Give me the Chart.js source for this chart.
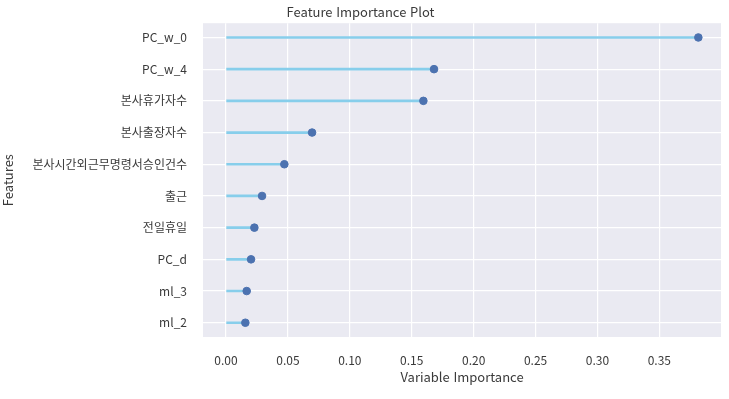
<!DOCTYPE html>
<html lang="ko">
<head>
    <meta charset="UTF-8">
    <title>Feature Importance Plot</title>
    <script src="https://cdn.jsdelivr.net/npm/chart.js@4.4.0/dist/chart.umd.min.js"></script>
    <style>
        body { margin: 0; background: #fff; }
        #wrap { width: 729px; height: 399px; }
    </style>
</head>
<body>
    <div id="wrap">
        <canvas id="fi"></canvas>
    </div>
    <script>
        // features, bottom to top (matplotlib order)
        const features = ['ml_2', 'ml_3', 'PC_d', '전일휴일', '출근', '본사시간외근무명령서승인건수', '본사출장자수', '본사휴가자수', 'PC_w_4', 'PC_w_0'];
        const importance = [0.0156, 0.0167, 0.0202, 0.0229, 0.0291, 0.0471, 0.0695, 0.1594, 0.168, 0.3815];
        const xTicks = [0, 0.05, 0.10, 0.15, 0.20, 0.25, 0.30, 0.35];

        const pts = features.map((f, i) => ({ x: importance[i], y: i }));
        const font = "'Noto Sans CJK KR', 'Noto Sans', sans-serif";
        const txt = '#3a3a3a';

        // background of plot area (seaborn darkgrid)
        const bgPlugin = {
            id: 'bg',
            beforeDraw(chart) {
                const a = chart.chartArea, c = chart.ctx;
                c.save();
                c.fillStyle = '#EAEAF2';
                c.fillRect(a.left, a.top, a.right - a.left, a.bottom - a.top);
                c.restore();
            }
        };

        new Chart(document.getElementById('fi'), {
            type: 'bar',
            data: {
                datasets: [{
                    type: 'bar',
                    data: pts,
                    backgroundColor: '#87CEEB',
                    barThickness: 2,
                    order: 2
                }, {
                    type: 'scatter',
                    data: pts,
                    backgroundColor: '#4C72B0',
                    borderColor: '#4C72B0',
                    pointRadius: 3.8,
                    order: 1
                }]
            },
            options: {
                indexAxis: 'y',
                responsive: true,
                maintainAspectRatio: false,
                animation: false,
                layout: { padding: { left: 0, right: 8, top: 0, bottom: 14 } },
                plugins: {
                    legend: { display: false },
                    tooltip: { enabled: false },
                    title: {
                        display: true,
                        text: 'Feature Importance Plot',
                        color: txt,
                        font: { family: font, size: 13, weight: 'normal' },
                        padding: { top: 3, bottom: 3 }
                    }
                },
                scales: {
                    x: {
                        type: 'linear',
                        min: -0.0186,
                        max: 0.3998,
                        afterBuildTicks(s) { s.ticks = xTicks.map(v => ({ value: v })); },
                        afterFit(s) { s.height = 48; },
                        grid: { color: '#ffffff', lineWidth: 1.2, drawTicks: false },
                        border: { display: false },
                        ticks: {
                            color: txt,
                            padding: 16,
                            font: { family: font, size: 12 },
                            callback: v => v.toFixed(2)
                        },
                        title: {
                            display: true,
                            text: 'Variable Importance',
                            color: txt,
                            font: { family: font, size: 13 },
                            padding: { top: 0, bottom: 0 }
                        }
                    },
                    y: {
                        type: 'linear',
                        offset: false,
                        min: -0.45,
                        max: 9.45,
                        afterBuildTicks(s) { s.ticks = features.map((f, i) => ({ value: i })); },
                        afterFit(s) { s.width = 203; },
                        grid: { color: '#ffffff', lineWidth: 1.2, drawTicks: false, offset: false },
                        border: { display: false },
                        ticks: {
                            color: txt,
                            padding: 16,
                            font: { family: font, size: 12 },
                            callback: v => features[v]
                        },
                        title: {
                            display: true,
                            text: 'Features',
                            color: txt,
                            font: { family: font, size: 13 },
                            padding: { top: 0, bottom: 0 }
                        }
                    }
                }
            },
            plugins: [bgPlugin]
        });
    </script>
</body>
</html>
